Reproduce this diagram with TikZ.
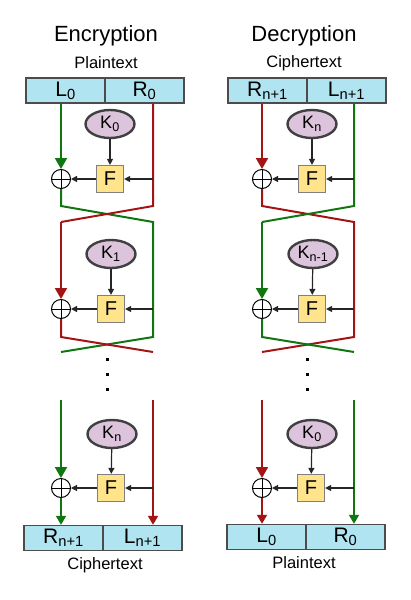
\documentclass[tikz,border=0pt]{standalone}
\usepackage{fontspec}
\setmainfont{Liberation Sans}
\usetikzlibrary{arrows.meta,shapes.geometric}

\definecolor{boxblue}{RGB}{176,228,240}
\definecolor{keypink}{RGB}{221,196,221}
\definecolor{fyellow}{RGB}{255,228,140}
\definecolor{lgreen}{RGB}{16,118,16}
\definecolor{lred}{RGB}{165,20,20}

\tikzset{
    half/.style={draw=black!70, line width=1.4pt, fill=boxblue, minimum width=79pt,
        minimum height=25pt, inner sep=0pt, font=\fontsize{21}{21}\selectfont},
    key/.style={ellipse, draw=black!75, line width=2.4pt, fill=keypink, minimum width=49pt,
        minimum height=28pt, inner sep=0pt, font=\fontsize{18}{18}\selectfont},
    ffun/.style={draw=black!50, line width=1.2pt, fill=fyellow, minimum size=27pt,
        inner sep=0pt, font=\fontsize{20}{20}\selectfont},
    xor/.style={circle, draw, line width=1pt, minimum size=19pt, inner sep=0pt,
        path picture={\draw[line width=1pt] (path picture bounding box.north) -- (path picture bounding box.south)
            (path picture bounding box.west) -- (path picture bounding box.east);}},
    title/.style={font=\fontsize{22}{22}\selectfont},
    label/.style={font=\fontsize{16.5}{16.5}\selectfont},
    gline/.style={lgreen, line width=2pt},
    rline/.style={lred, line width=2pt},
    bigtip/.style={-{Triangle[length=11pt,width=12pt]}},
    endtip/.style={-{Triangle[length=9pt,width=10pt]}},
    thin/.style={-{Triangle[length=6pt,width=6pt]}, line width=1.2pt, black!85}
}

\begin{document}
\begin{tikzpicture}[x=1pt,y=-1pt]
    \useasboundingbox (0,0) rectangle (410,600);

    % encryption
    \node[title] (enc) at (106,36) {Encryption};
    \node[label] (ptin) at (106,63) {Plaintext};
    \node[half] (el) at (65.5,90.5) {L\textsubscript{0}};
    \node[half] (er) at (144.5,90.5) {R\textsubscript{0}};

    \node[key] (ek0) at (110,124) {K\textsubscript{0}};
    \node[ffun] (ef1) at (110,179) {F};
    \node[xor] (ex1) at (61,179) {};
    \coordinate (ea1) at (61,206);  \coordinate (eb1) at (153,206);
    \coordinate (ea2) at (61,222);  \coordinate (eb2) at (153,222);

    \node[key] (ek1) at (111,254) {K\textsubscript{1}};
    \node[ffun] (ef2) at (111,309) {F};
    \node[xor] (ex2) at (61,309) {};
    \coordinate (ea3) at (61,337);  \coordinate (eb3) at (153,337);
    \coordinate (ea4) at (61,352);  \coordinate (eb4) at (153,352);

    \coordinate (ea5) at (61,400);  \coordinate (eb5) at (153,400);
    \node[key] (ek2) at (112,434) {K\textsubscript{n}};
    \node[ffun] (ef3) at (111,488) {F};
    \node[xor] (ex3) at (61,488) {};
    \node[half] (ecl) at (63.5,538) {R\textsubscript{n+1}};
    \node[half] (ecr) at (142.5,538) {L\textsubscript{n+1}};
    \node[label] (ctout) at (105,565) {Ciphertext};

    \draw[gline, bigtip] (ex1 |- el.south) -- (ex1.north);
    \draw[gline] (ex1.south) -- (ea1) -- (eb2) -- (eb3) -- (ea4);
    \draw[rline] (er.south -| eb1) -- (eb1) -- (ea2);
    \draw[rline, bigtip] (ea2) -- (ex2.north);
    \draw[rline] (ex2.south) -- (ea3) -- (eb4);
    \draw[gline, bigtip] (ea5) -- (ex3.north);
    \draw[gline, endtip] (ex3.south) -- (ex3 |- ecl.north);
    \draw[rline, endtip] (eb5) -- (eb5 |- ecr.north);

    \draw[thin] (ek0) -- (ef1);
    \draw[thin] (ef1.east -| eb1) -- (ef1);
    \draw[thin] (ef1) -- (ex1);
    \draw[thin] (ek1) -- (ef2);
    \draw[thin] (ef2.east -| eb3) -- (ef2);
    \draw[thin] (ef2) -- (ex2);
    \draw[thin] (ek2) -- (ef3);
    \draw[thin] (ef3.east -| eb5) -- (ef3);
    \draw[thin] (ef3) -- (ex3);

    \foreach \y in {359,374,389}
        \fill (105.5,\y-1.5) rectangle +(3,3);

    % decryption
    \begin{scope}[xshift=202pt]
    \node[title] (dec) at (102,36) {Decryption};
    \node[label] (ctin) at (102,63) {Ciphertext};
    \node[half] (dl) at (65.5,90.5) {R\textsubscript{n+1}};
    \node[half] (dr) at (144.5,90.5) {L\textsubscript{n+1}};

    \node[key] (dk0) at (110,124) {K\textsubscript{n}};
    \node[ffun] (df1) at (110,179) {F};
    \node[xor] (dx1) at (60,179) {};
    \coordinate (da1) at (60,206);  \coordinate (db1) at (152,206);
    \coordinate (da2) at (60,222);  \coordinate (db2) at (152,222);

    \node[key] (dk1) at (111,254) {K\textsubscript{n-1}};
    \node[ffun] (df2) at (110,309) {F};
    \node[xor] (dx2) at (60,309) {};
    \coordinate (da3) at (60,337);  \coordinate (db3) at (152,337);
    \coordinate (da4) at (60,352);  \coordinate (db4) at (152,352);

    \coordinate (da5) at (60,400);  \coordinate (db5) at (152,400);
    \node[key] (dk2) at (110,434) {K\textsubscript{0}};
    \node[ffun] (df3) at (109,488) {F};
    \node[xor] (dx3) at (60,488) {};
    \node[half] (dpl) at (64.5,537) {L\textsubscript{0}};
    \node[half] (dpr) at (143.5,537) {R\textsubscript{0}};
    \node[label] (ptout) at (102,563) {Plaintext};

    \draw[rline, bigtip] (dx1 |- dl.south) -- (dx1.north);
    \draw[rline] (dx1.south) -- (da1) -- (db2) -- (db3) -- (da4);
    \draw[gline] (dr.south -| db1) -- (db1) -- (da2);
    \draw[gline, bigtip] (da2) -- (dx2.north);
    \draw[gline] (dx2.south) -- (da3) -- (db4);
    \draw[rline, bigtip] (da5) -- (dx3.north);
    \draw[rline, endtip] (dx3.south) -- (dx3 |- dpl.north);
    \draw[gline, endtip] (db5) -- (db5 |- dpr.north);

    \draw[thin] (dk0) -- (df1);
    \draw[thin] (df1.east -| db1) -- (df1);
    \draw[thin] (df1) -- (dx1);
    \draw[thin] (dk1) -- (df2);
    \draw[thin] (df2.east -| db3) -- (df2);
    \draw[thin] (df2) -- (dx2);
    \draw[thin] (dk2) -- (df3);
    \draw[thin] (df3.east -| db5) -- (df3);
    \draw[thin] (df3) -- (dx3);

    \foreach \y in {359,374,389}
        \fill (103.5,\y-1.5) rectangle +(3,3);
    \end{scope}

\end{tikzpicture}
\end{document}
